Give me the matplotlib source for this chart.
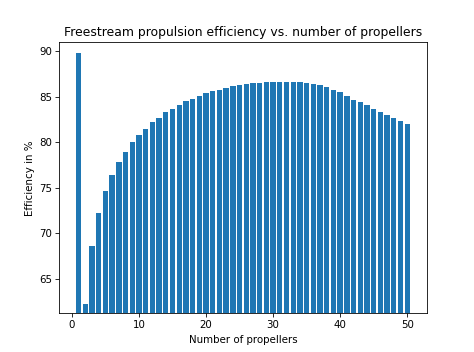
import matplotlib
matplotlib.use("Agg")
import matplotlib.pyplot as plt

n_propellers = list(range(1, 51))
efficiency = [89.8, 62.2, 68.65, 72.2, 74.6, 76.4, 77.8, 78.95, 80.0, 80.8,
              81.5, 82.2, 82.7, 83.3, 83.7, 84.1, 84.5, 84.8, 85.05, 85.4,
              85.6, 85.8, 86.0, 86.15, 86.25, 86.4, 86.47, 86.55, 86.58, 86.65,
              86.65, 86.65, 86.65, 86.58, 86.47, 86.4, 86.25, 86.07, 85.8, 85.5,
              85.1, 84.7, 84.4, 84.05, 83.65, 83.3, 83.0, 82.65, 82.3, 82.0]

fig = plt.figure(figsize=(474/74, 352/74), dpi=74)
ax = fig.add_subplot(111)
ax.bar(n_propellers, efficiency, color="#1f77b4")
ax.set_ylim(61.2, 91.0)
ax.set_title("Freestream propulsion efficiency vs. number of propellers")
ax.set_xlabel("Number of propellers")
ax.set_ylabel("Efficiency in %")
fig.savefig("out.png", dpi=74)
